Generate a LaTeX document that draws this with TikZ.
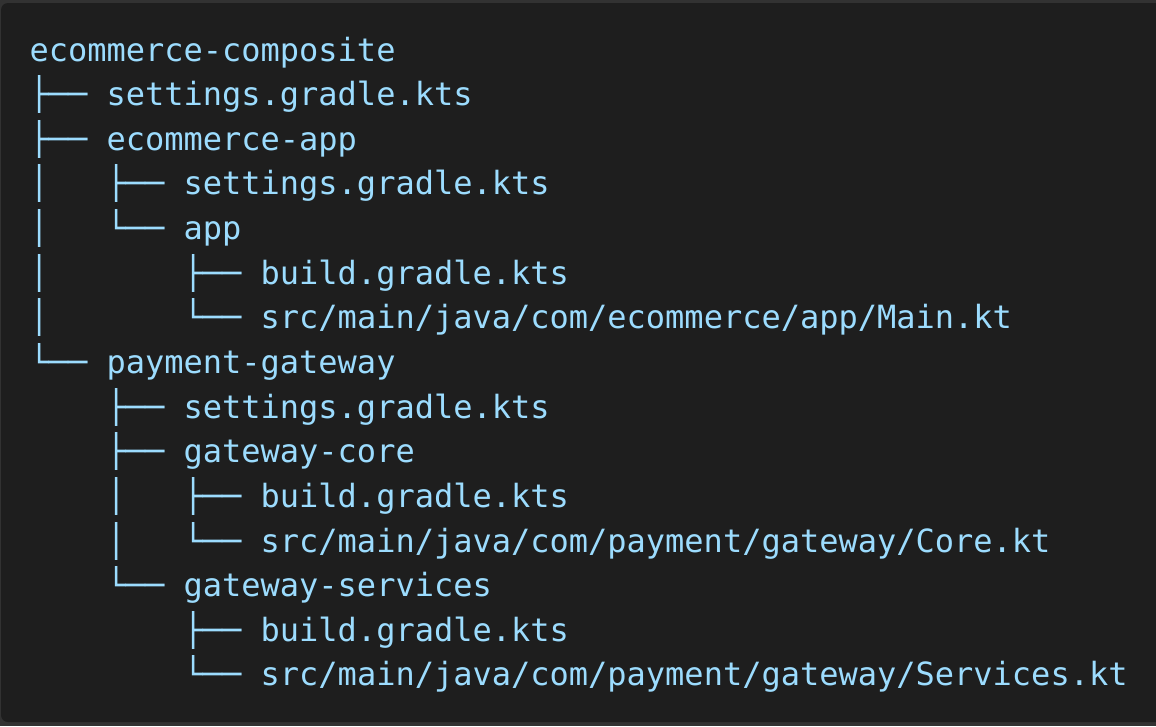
\documentclass[tikz,border=0pt]{standalone}
\usepackage{fontspec}
\setmonofont{DejaVu Sans Mono}
\definecolor{outerbg}{HTML}{323232}
\definecolor{innerbg}{HTML}{1E1E1E}
\definecolor{txt}{HTML}{9CDCFE}
\begin{document}
\begin{tikzpicture}[x=1pt,y=-1pt,
  line/.style={anchor=base west,inner sep=0pt,outer sep=0pt,text=txt,
    font=\ttfamily\fontsize{32}{40}\selectfont}]
\useasboundingbox (0,0) rectangle (1156,726);
\fill[outerbg] (0,0) rectangle (1156,726);
\fill[innerbg,rounded corners=7pt] (1,3) rectangle (1170,722);
\def\p{44.64}
\def\x{29.5}
\node[line] (l1)  at (\x,61+0*\p)  {ecommerce-composite};
\node[line] (l2)  at (\x,61+1*\p)  {├── settings.gradle.kts};
\node[line] (l3)  at (\x,61+2*\p)  {├── ecommerce-app};
\node[line] (l4)  at (\x,61+3*\p)  {│\ \ \ ├── settings.gradle.kts};
\node[line] (l5)  at (\x,61+4*\p)  {│\ \ \ └── app};
\node[line] (l6)  at (\x,61+5*\p)  {│\ \ \ \ \ \ \ ├── build.gradle.kts};
\node[line] (l7)  at (\x,61+6*\p)  {│\ \ \ \ \ \ \ └── src/main/java/com/ecommerce/app/Main.kt};
\node[line] (l8)  at (\x,61+7*\p)  {└── payment-gateway};
\node[line] (l9)  at (\x,61+8*\p)  {\ \ \ \ ├── settings.gradle.kts};
\node[line] (l10) at (\x,61+9*\p)  {\ \ \ \ ├── gateway-core};
\node[line] (l11) at (\x,61+10*\p) {\ \ \ \ │\ \ \ ├── build.gradle.kts};
\node[line] (l12) at (\x,61+11*\p) {\ \ \ \ │\ \ \ └── src/main/java/com/payment/gateway/Core.kt};
\node[line] (l13) at (\x,61+12*\p) {\ \ \ \ └── gateway-services};
\node[line] (l14) at (\x,61+13*\p) {\ \ \ \ \ \ \ \ ├── build.gradle.kts};
\node[line] (l15) at (\x,61+14*\p) {\ \ \ \ \ \ \ \ └── src/main/java/com/payment/gateway/Services.kt};
\end{tikzpicture}
\end{document}
